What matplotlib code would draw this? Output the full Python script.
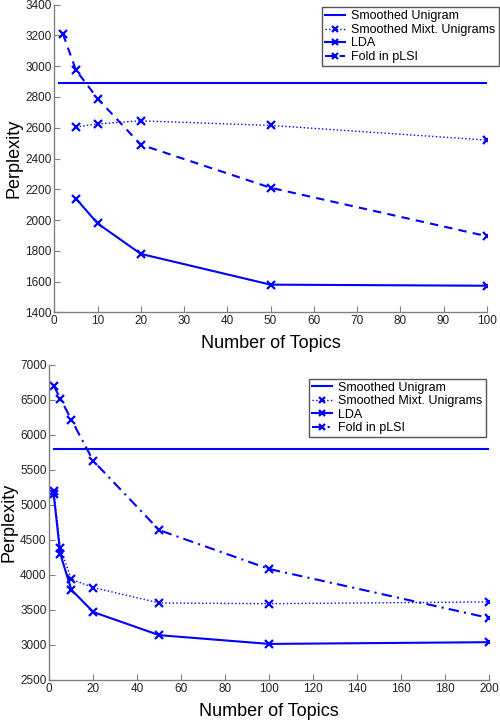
import matplotlib
matplotlib.use("Agg")
import matplotlib.pyplot as plt

plt.rcParams['font.family'] = ['Liberation Sans', 'DejaVu Sans']

# ---- Top panel data ----
top_unigram_x = [1, 100]
top_unigram_y = [2890, 2890]
top_mixt_x = [5, 10, 20, 50, 100]
top_mixt_y = [2605, 2625, 2645, 2615, 2520]
top_lda_x = [5, 10, 20, 50, 100]
top_lda_y = [2140, 1978, 1780, 1580, 1573]
top_plsi_x = [2, 5, 10, 20, 50, 100]
top_plsi_y = [3210, 2975, 2790, 2490, 2210, 1895]

# ---- Bottom panel data ----
bot_unigram_x = [2, 200]
bot_unigram_y = [5800, 5800]
bot_mixt_x = [2, 5, 10, 20, 50, 100, 200]
bot_mixt_y = [5200, 4390, 3940, 3820, 3600, 3590, 3615]
bot_lda_x = [2, 5, 10, 20, 50, 100, 200]
bot_lda_y = [5150, 4300, 3790, 3470, 3140, 3015, 3040]
bot_plsi_x = [2, 5, 10, 20, 50, 100, 200]
bot_plsi_y = [6705, 6520, 6220, 5630, 4640, 4085, 3385]

labels = ["Smoothed Unigram", "Smoothed Mixt. Unigrams", "LDA", "Fold in pLSI"]
xlabel = "Number of Topics"
ylabel = "Perplexity"

blue = (0, 0, 1)
gray = "#808080"

fig = plt.figure(figsize=(5.0, 7.22), dpi=100)
ax1 = fig.add_axes([0.1086, 0.5674, 0.865, 0.4261])
ax2 = fig.add_axes([0.0986, 0.0582, 0.88, 0.4363])

def style(ax):
    for s in ("top", "right"):
        ax.spines[s].set_visible(False)
    for s in ("left", "bottom"):
        ax.spines[s].set_color(gray)
        ax.spines[s].set_linewidth(1.0)
    ax.tick_params(direction="in", length=4, width=0.8, color=gray,
                   labelsize=8.5, labelcolor="#222222", pad=2)
    ax.set_xlabel(xlabel, fontsize=13, labelpad=6)
    ax.set_ylabel(ylabel, fontsize=13, labelpad=2)

mk = dict(marker="x", markersize=5.5, markeredgewidth=1.6, color=blue)

def add_legend(ax, anchor):
    leg = ax.legend(loc="upper right", bbox_to_anchor=anchor, fontsize=9,
                    fancybox=False, handlelength=1.6, borderpad=0.25,
                    labelspacing=0.12, handletextpad=0.5, borderaxespad=0.0,
                    framealpha=1, numpoints=1, markerscale=0.9)
    leg.get_frame().set_edgecolor("#555555")
    leg.get_frame().set_linewidth(1.0)
    return leg

# top
ax1.plot(top_unigram_x, top_unigram_y, "-", color=blue, lw=1.5, label=labels[0])
ax1.plot(top_mixt_x, top_mixt_y, ":", lw=1.0, label=labels[1], **mk)
ax1.plot(top_lda_x, top_lda_y, "-", lw=1.5, label=labels[2], **mk)
ax1.plot(top_plsi_x, top_plsi_y, "--", lw=1.5, dashes=(4, 3), label=labels[3], **mk)
ax1.set_xlim(0, 100)
ax1.set_ylim(1400, 3400)
ax1.set_xticks(range(0, 101, 10))
ax1.set_yticks(range(1400, 3401, 200))
style(ax1)
add_legend(ax1, (1.0277, 0.9915))

# bottom
ax2.plot(bot_unigram_x, bot_unigram_y, "-", color=blue, lw=1.5, label=labels[0])
ax2.plot(bot_mixt_x, bot_mixt_y, ":", lw=1.0, label=labels[1], **mk)
ax2.plot(bot_lda_x, bot_lda_y, "-", lw=1.5, label=labels[2], **mk)
ax2.plot(bot_plsi_x, bot_plsi_y, "-.", lw=1.5, dashes=(5, 2.5, 1, 2.5), label=labels[3], **mk)
ax2.set_xlim(0, 200)
ax2.set_ylim(2500, 7000)
ax2.set_xticks(range(0, 201, 20))
ax2.set_yticks(range(2500, 7001, 500))
style(ax2)
add_legend(ax2, (0.9918, 0.9565))

fig.savefig("out.png", dpi=100)
